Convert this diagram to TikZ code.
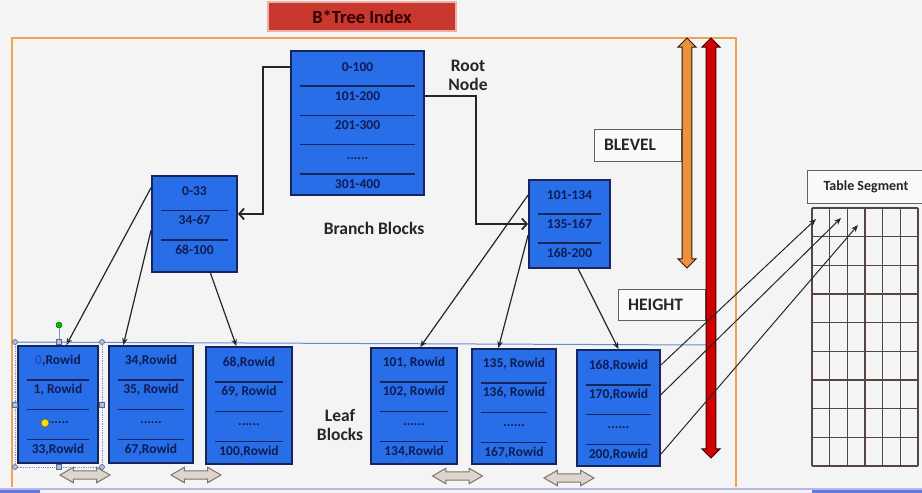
\documentclass[tikz,border=0pt]{standalone}
\usepackage{fontspec}
\setmainfont{Carlito}
\usepackage{xcolor}
\usetikzlibrary{arrows.meta,shapes.arrows}

\definecolor{bgc}{RGB}{244,244,244}
\definecolor{blkfill}{RGB}{40,110,232}
\definecolor{blkline}{RGB}{22,38,92}
\definecolor{blktxt}{RGB}{14,28,82}
\definecolor{zeroblue}{RGB}{25,80,200}
\definecolor{framec}{RGB}{240,162,84}
\definecolor{titlefill}{RGB}{200,56,46}
\definecolor{titleline}{RGB}{236,176,168}
\definecolor{tagline}{RGB}{105,95,92}
\definecolor{gridc}{RGB}{85,70,66}
\definecolor{swapfill}{RGB}{222,214,206}
\definecolor{swapline}{RGB}{125,115,108}
\definecolor{orgfill}{RGB}{238,145,62}
\definecolor{orgline}{RGB}{45,25,12}
\definecolor{redfill}{RGB}{210,0,0}
\definecolor{redline}{RGB}{60,0,0}
\definecolor{leafline}{RGB}{100,140,212}
\definecolor{selc}{RGB}{120,150,205}
\definecolor{lavc}{RGB}{182,182,232}

% the gap row of a block
\newcommand{\dotrow}{......}

\begin{document}
\begin{tikzpicture}[x=1pt,y=-1pt,
    blk/.style={draw=blkline, fill=blkfill, line width=1.8pt, inner sep=0pt},
    rowtxt/.style={text=blktxt, font=\bfseries\fontsize{13.5}{15}\selectfont, inner sep=0pt, text height=8.5pt, text depth=0pt},
    sep/.style={draw=blkline, line width=1.2pt},
    lbl/.style={text=black!85, font=\bfseries\fontsize{17.5}{19.5}\selectfont, align=center},
    tag/.style={draw=tagline, fill=white!55!bgc, line width=1pt, inner xsep=10pt, align=left, text=black!85, font=\bfseries\fontsize{17.5}{20}\selectfont},
    barb/.style={draw=black!85, line width=1.8pt, -{Straight Barb[length=5pt,width=11pt]}},
    ptr/.style={draw=black!85, line width=1.2pt, -{Stealth[length=7pt,width=5.5pt]}},
    link/.style={draw=black!85, line width=1pt, -{Stealth[length=7pt,width=5.5pt]}},
    swap/.style={double arrow, double arrow head extend=3.5pt, double arrow tip angle=60, minimum height=50pt, inner xsep=0pt, inner ysep=3.7pt, draw=swapline, fill=swapfill, line width=1pt},
    dimarrow/.style={double arrow, rotate=90, inner xsep=0pt, inner ysep=4.3pt, double arrow head extend=4.3pt, line width=1pt},
    gridln/.style={draw=gridc, line width=1.3pt},
    handle/.style={draw=selc!70!black, fill=selc!60!white, line width=0.6pt}]

    % background and page size
    \fill[bgc] (0,0) rectangle (922,493);
    \useasboundingbox (0,0) rectangle (922,493);

    % index frame and title
    \draw[framec, line width=2pt] (12,487) -- (12,38) -- (736,38) -- (736,487);
    \node[draw=titleline, fill=titlefill, line width=1.5pt, minimum width=188pt, minimum height=29pt, font=\bfseries\fontsize{18.5}{20}\selectfont, text=black!80!red] (title) at (362,16.5) {B*Tree Index};
    \draw[lavc, line width=2pt] (0,489) -- (922,489);
    \fill[selc!80!blue] (0,490) rectangle (40,493);
    \fill[selc!80!blue] (812,490) rectangle (922,493);

    % leaf level line
    \draw[leafline, line width=1pt] (15,342) -- (708,345);

    % Root Node
    \node[blk, minimum width=133pt, minimum height=144pt] (root) at (357.5,123) {};
    \foreach \t [count=\i] in {0-100,101-200,201-300,\dotrow,301-400}
        \node[rowtxt] (root-\i) at (357.5,{67+(\i-1)*29.3}) {\t};
    \foreach \i in {1,2,3,4}
        \draw[sep] (300,{86+(\i-1)*29.3}) -- (415,{86+(\i-1)*29.3});
    \node[lbl] (rootlbl) at (468,75.5) {Root\\Node};

    % Branch Blocks
    \node[blk, minimum width=85pt, minimum height=96pt] (brL) at (194.5,224) {};
    \foreach \t [count=\i] in {0-33,34-67,68-100}
        \node[rowtxt] (brL-\i) at (194.5,{191+(\i-1)*29.5}) {\t};
    \foreach \i in {1,2}
        \draw[sep] (161,{210.5+(\i-1)*29.5}) -- (228,{210.5+(\i-1)*29.5});

    \node[blk, minimum width=81pt, minimum height=88pt] (brR) at (569.5,224) {};
    \foreach \t [count=\i] in {101-134,135-167,168-200}
        \node[rowtxt] (brR-\i) at (569.5,{195+(\i-1)*29}) {\t};
    \foreach \i in {1,2}
        \draw[sep] (538,{214+(\i-1)*29}) -- (601,{214+(\i-1)*29});
    \node[lbl] (brlbl) at (374,228) {Branch Blocks};

    \draw[barb] (root-1 -| root.west) -- ++(-27,0) |- (brL.13);
    \draw[barb] (root-2 -| root.east) -- ++(51,0) |- (brR-2 -| brR.west);

    % Leaf Blocks
    \node[blk, minimum width=80pt, minimum height=117pt] (leaf1) at (58,404.5) {};
    \foreach \t [count=\i] in {{{\color{zeroblue}0},Rowid},{1, Rowid},\dotrow,{33,Rowid}}
        \node[rowtxt] (leaf1-\i) at (58,{360+(\i-1)*29.7}) {\t};
    \foreach \i in {1,2,3}
        \draw[sep] (27,{380+(\i-1)*29.7}) -- (89,{380+(\i-1)*29.7});

    \node[blk, minimum width=84pt, minimum height=117pt] (leaf2) at (151,404.5) {};
    \foreach \t [count=\i] in {{34,Rowid},{35, Rowid},\dotrow,{67,Rowid}}
        \node[rowtxt] (leaf2-\i) at (151,{360+(\i-1)*29.7}) {\t};
    \foreach \i in {1,2,3}
        \draw[sep] (118,{380+(\i-1)*29.7}) -- (184,{380+(\i-1)*29.7});

    \node[blk, minimum width=86pt, minimum height=117pt] (leaf3) at (249,405.5) {};
    \foreach \t [count=\i] in {{68,Rowid},{69, Rowid},\dotrow,{100,Rowid}}
        \node[rowtxt] (leaf3-\i) at (249,{362+(\i-1)*29.7}) {\t};
    \foreach \i in {1,2,3}
        \draw[sep] (215,{382+(\i-1)*29.7}) -- (283,{382+(\i-1)*29.7});

    \node[blk, minimum width=86pt, minimum height=116pt] (leaf4) at (414,406) {};
    \foreach \t [count=\i] in {{101, Rowid},{102, Rowid},\dotrow,{134,Rowid}}
        \node[rowtxt] (leaf4-\i) at (414,{362+(\i-1)*29.7}) {\t};
    \foreach \i in {1,2,3}
        \draw[sep] (380,{382+(\i-1)*29.7}) -- (448,{382+(\i-1)*29.7});

    \node[blk, minimum width=84pt, minimum height=115pt] (leaf5) at (514,406.5) {};
    \foreach \t [count=\i] in {{135, Rowid},{136, Rowid},\dotrow,{167,Rowid}}
        \node[rowtxt] (leaf5-\i) at (514,{363+(\i-1)*29.7}) {\t};
    \foreach \i in {1,2,3}
        \draw[sep] (481,{383+(\i-1)*29.7}) -- (547,{383+(\i-1)*29.7});

    \node[blk, minimum width=83pt, minimum height=116pt] (leaf6) at (618.5,408) {};
    \foreach \t [count=\i] in {{168,Rowid},{170,Rowid},\dotrow,{200,Rowid}}
        \node[rowtxt] (leaf6-\i) at (618.5,{365+(\i-1)*29.7}) {\t};
    \foreach \i in {1,2,3}
        \draw[sep] (586,{385+(\i-1)*29.7}) -- (651,{385+(\i-1)*29.7});
    \node[lbl] (leaflbl) at (340,425) {Leaf\\Blocks};

    \draw[ptr] (brL.140) -- (leaf1.82);
    \draw[ptr] (brL.188) -- (leaf2.115);
    \draw[ptr] (brL.288) -- (leaf3.102);
    \draw[ptr] (brR.145) -- (leaf4.84);
    \draw[ptr] (brR.195) -- (leaf5.105);
    \draw[ptr] (brR.281) -- (leaf6.north);

    % sibling links
    \node[swap] (sw1) at (85,475) {};
    \node[swap] (sw2) at (196,475) {};
    \node[swap] (sw3) at (457.5,476) {};
    \node[swap] (sw4) at (569,478) {};

    % selection round the first leaf
    \draw[selc, line width=0.8pt, densely dotted] (15,342) rectangle (102,467);
    \draw[selc, line width=0.8pt] (59,328) -- (59,342);
    \filldraw[draw=green!40!black, fill=green!75!black, line width=0.5pt] (59,325) circle (3);
    \foreach \p in {(15,342),(102,342),(15,467),(102,467)}
        \filldraw[handle] \p circle (2.5);
    \foreach \p in {(59,342),(15,405),(102,405),(59,467)}
        \filldraw[handle] \p ++(-2.5,-2.5) rectangle ++(5,5);
    \filldraw[draw=olive!70!black, fill=yellow!80!orange, line width=0.6pt] (45,423) circle (4);

    % BLEVEL and HEIGHT
    \node[tag, minimum width=87pt, minimum height=32pt, text width=67pt] (blevel) at (637.5,145) {BLEVEL};
    \node[tag, minimum width=87pt, minimum height=31pt, text width=67pt] (height) at (661.5,304.5) {HEIGHT};
    \node[dimarrow, fill=orgfill, draw=orgline, minimum height=230pt] (blevarr) at (687,153) {};
    \node[dimarrow, fill=redfill, draw=redline, minimum height=420pt] (heightarr) at (711,248) {};

    % Table Segment
    \node[draw=tagline, fill=white!55!bgc, line width=1pt, minimum width=118pt, minimum height=33pt, text=black!85, font=\bfseries\fontsize{14}{16}\selectfont] (tseg) at (866,186.5) {Table Segment};
    \foreach \i in {0,1,2,3,4,5,6}
        \draw[gridln] ({812+\i*17.67},208) -- ({812+\i*17.67},466);
    \foreach \j in {0,1,2,3,4,5,6,7,8,9}
        \draw[gridln] (812,{208+\j*28.67}) -- (918,{208+\j*28.67});
    \coordinate (ts1) at (816,219);
    \coordinate (ts2) at (841,218);
    \coordinate (ts3) at (858,225);
    \draw[link] (leaf6-1 -| leaf6.east) -- (ts1);
    \draw[link] (leaf6-2 -| leaf6.east) -- (ts2);
    \draw[link] (leaf6-4 -| leaf6.east) -- (ts3);
\end{tikzpicture}
\end{document}
